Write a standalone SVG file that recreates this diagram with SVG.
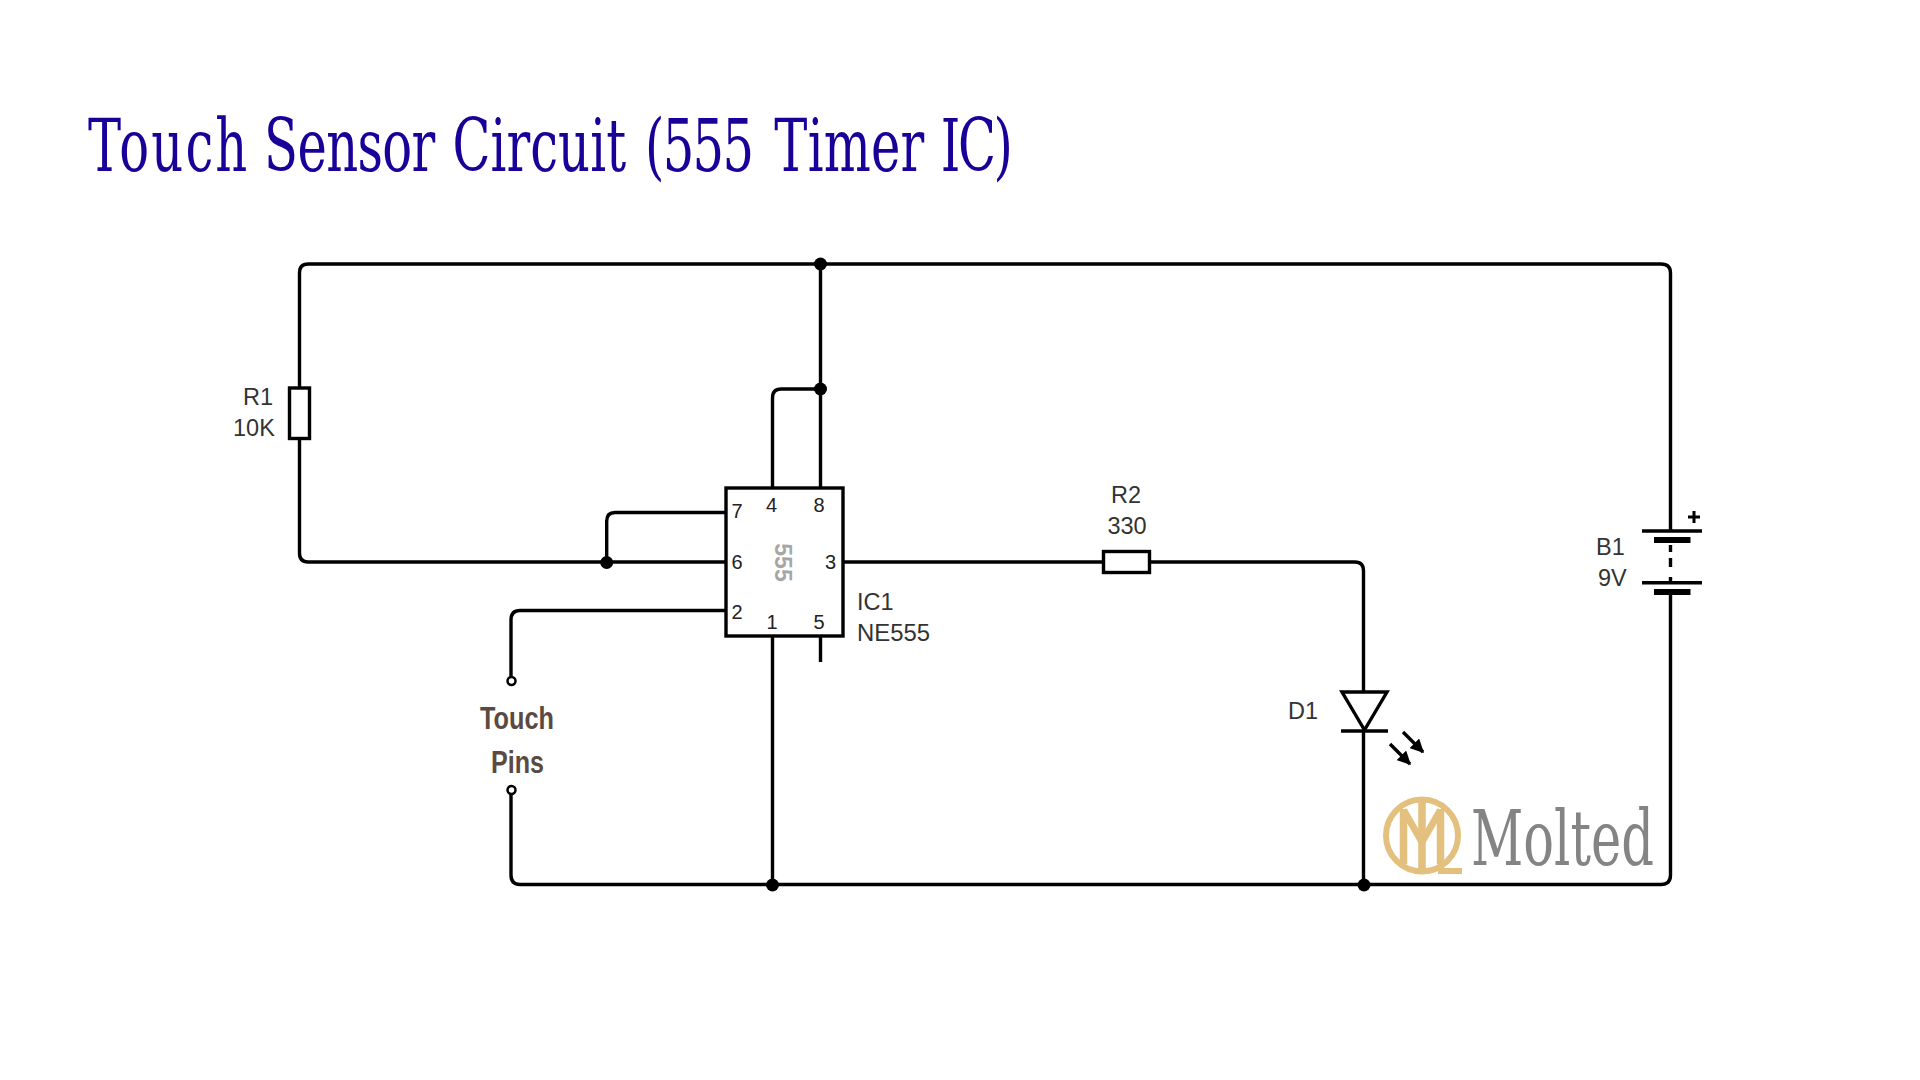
<svg xmlns="http://www.w3.org/2000/svg" width="1920" height="1080" viewBox="0 0 1920 1080">
<style>
.w{fill:none;stroke:#000;stroke-width:3.4;stroke-linecap:butt;stroke-linejoin:round}
.b{fill:#fff;stroke:#000;stroke-width:3.4}
.j{fill:#000}
.t{font-family:"Liberation Sans",Arial,sans-serif;font-size:23.5px;fill:#333}
.p{font-family:"Liberation Sans",Arial,sans-serif;font-size:20px;fill:#222;text-anchor:middle}
.c{font-family:"Liberation Sans",Arial,sans-serif;font-size:32px;font-weight:bold;fill:#5a4a42}
.g{fill:none;stroke:#e3c07e;stroke-linejoin:miter}
</style>
<defs>
<marker id="ah" viewBox="0 0 10 10" refX="9" refY="5" markerWidth="4" markerHeight="4" orient="auto"><path d="M0 0L10 5L0 10z" fill="#000"/></marker>
</defs>
<rect width="1920" height="1080" fill="#fff"/>
<text id="title" transform="translate(88 171) scale(.69 1)" font-family="'DejaVu Serif','Liberation Serif',serif" font-size="72" fill="#1a0099"><tspan letter-spacing="3">Touch</tspan> <tspan dx="-1.5" letter-spacing="-1">Sensor</tspan> <tspan dx="3" letter-spacing="0.1">Circuit</tspan> <tspan dx="4.5" letter-spacing="-2.5">(555</tspan> <tspan dx="9" letter-spacing="0.2">Timer</tspan> <tspan dx="1" letter-spacing="-3.5">IC)</tspan></text>
<g id="connectors">
<path class="w" d="M299.5 388V273Q299.5 264 308 264H1661Q1670.5 264 1670.5 273V531"/>
<path class="w" d="M299.5 439V553Q299.5 562 308 562H726"/>
<path class="w" d="M820.5 264V488"/>
<path class="w" d="M820.5 389H781Q772.5 389 772.5 398V488"/>
<path class="w" d="M726 512.5H615Q606.7 512.5 606.7 521V562"/>
<path class="w" d="M726 610.5H520Q511 610.5 511 620V677"/>
<path class="w" d="M511 794V875Q511 884.500 520 884.500H1661Q1670.500 884.500 1670.500 875V592"/>
<path class="w" d="M772.500 636V884"/>
<path class="w" d="M820.500 636V662"/>
<path class="w" d="M843 562H1103"/>
<path class="w" d="M1150 562H1355Q1363.500 562 1363.500 571V692"/>
<path class="w" d="M1363.500 731V884"/>
</g>
<g id="junctions">
<circle class="j" cx="820.500" cy="264" r="6.500"/>
<circle class="j" cx="820.500" cy="389" r="6.500"/>
<circle class="j" cx="606.700" cy="562.500" r="6.500"/>
<circle class="j" cx="772.500" cy="885" r="6.500"/>
<circle class="j" cx="1364" cy="885" r="6.500"/>
</g>
<g id="R1">
<rect class="b" x="289.500" y="388" width="20" height="50.500"/>
<text class="t" x="243" y="404.500">R1</text>
<text class="t" x="233" y="435.500">10K</text>
</g>
<g id="IC1">
<rect class="b" x="726" y="488" width="117" height="148"/>
<text class="p" x="737" y="518">7</text>
<text class="p" x="771.500" y="511.500">4</text>
<text class="p" x="819" y="511.500">8</text>
<text class="p" x="737" y="569">6</text>
<text class="p" x="830.500" y="569">3</text>
<text class="p" x="737" y="619">2</text>
<text class="p" x="772" y="629">1</text>
<text class="p" x="819" y="629">5</text>
<text transform="translate(774.500 562.500) rotate(90)" font-family="'Liberation Sans',Arial,sans-serif" font-size="23px" font-weight="bold" fill="#a6a6a6" text-anchor="middle">555</text>
<text class="t" x="857" y="610">IC1</text>
<text class="t" x="857" y="641" textLength="73" lengthAdjust="spacingAndGlyphs">NE555</text>
</g>
<g id="R2">
<rect class="b" x="1103.500" y="551.500" width="46" height="21"/>
<text class="t" x="1126" y="503" text-anchor="middle">R2</text>
<text class="t" x="1127" y="534" text-anchor="middle">330</text>
</g>
<g id="D1">
<path class="b" d="M1342 692H1387L1364.500 730Z"/>
<path class="w" d="M1341 731H1388"/>
<path class="w" d="M1403 732L1423 752" marker-end="url(#ah)"/>
<path class="w" d="M1390 744L1410 764" marker-end="url(#ah)"/>
<text class="t" x="1288" y="718.500">D1</text>
</g>
<g id="B1">
<path class="w" d="M1642 531H1702M1642 582.700H1702"/>
<path d="M1654 537H1690.500V543H1654ZM1654 589H1690.500V595H1654Z" class="j"/>
<path class="w" d="M1670.500 545V552M1670.500 558V567M1670.500 577V582"/>
<path d="M1694 511V523M1688 517H1700" fill="none" stroke="#000" stroke-width="3"/>
<text class="t" x="1596" y="555">B1</text>
<text class="t" x="1598" y="586">9V</text>
</g>
<g id="touch-pins">
<circle cx="511.500" cy="681" r="4" fill="#fff" stroke="#000" stroke-width="2.500"/>
<circle cx="511.500" cy="790" r="4" fill="#fff" stroke="#000" stroke-width="2.500"/>
<text class="c" x="480" y="729" textLength="74" lengthAdjust="spacingAndGlyphs">Touch</text>
<text class="c" x="491" y="773" textLength="53" lengthAdjust="spacingAndGlyphs">Pins</text>
</g>
<g id="logo">
<circle class="g" cx="1422" cy="835.500" r="36" stroke-width="6"/>
<path class="g" stroke-width="7.500" d="M1422 800V871M1403.500 809V864M1440.500 809V864"/>
<path class="g" stroke-width="7" d="M1403.500 810L1422 842L1440.500 810"/>
<rect x="1438" y="868" width="24" height="6" fill="#e3c07e"/>
<text x="1471" y="865" font-family="'DejaVu Serif','Liberation Serif',serif" font-size="76" fill="#848484" textLength="183" lengthAdjust="spacingAndGlyphs">Molted</text>
</g>
</svg>
